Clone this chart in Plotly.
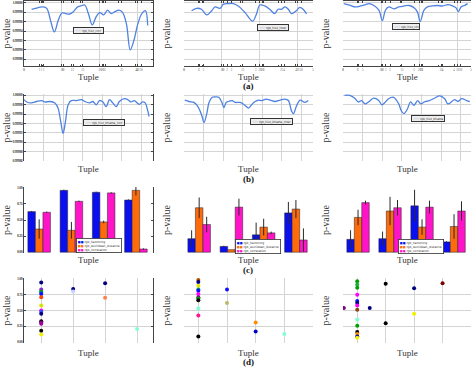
import plotly.graph_objects as go
from plotly.subplots import make_subplots

W, H = 474, 369
SERIF = "Liberation Serif, Times New Roman, serif"
LINE_BLUE = "#4f82e3"
C_BLUE, C_ORANGE, C_MAG = "#0a0ff0", "#ff6a0a", "#ff14c8"

# ---------------- Row (a): line plots ----------------
a1_x = [2, 3, 4, 5, 6, 7, 8, 9, 10, 11, 12, 13, 14, 15, 16, 17, 18, 19, 20, 21, 22, 23, 24, 25, 26, 27, 28, 29, 30, 31, 32, 32.6]
a1_y = [0.999986, 0.999988, 0.999990, 0.999991, 0.999988, 0.999962, 0.999938, 0.999962, 0.999978, 0.999977,
        0.999976, 0.999981, 0.999990, 0.999993, 0.999995, 0.999976, 0.999953, 0.999970, 0.999979, 0.999974,
        0.999984, 0.999977, 0.999981, 0.999984, 0.999979, 0.999955, 0.999900, 0.999921, 0.999955, 0.999976,
        0.999983, 0.999952]
a2_x = [2.0, 3.3, 4.6, 6.0, 7.3, 8.2, 9.5, 10.4, 11.7, 13.0, 14.3, 16.1, 18.1, 19.1, 20.0, 21.3, 22.6, 23.9,
        24.8, 25.7, 26.6, 27.5, 28.3, 29.6, 30.5, 31.4, 32.3]
a2_y = [0.999983, 0.999988, 0.999986, 0.999974, 0.999983, 0.999991, 0.999988, 0.999997, 0.999998, 0.999998,
        0.999993, 0.999979, 0.999961, 0.999976, 0.999995, 0.999993, 0.999986, 0.999977, 0.999986, 0.999986,
        0.999991, 0.999986, 0.999977, 0.999983, 0.999990, 0.999986, 0.999976]
a3_x = [0.2, 1.9, 3.2, 4.6, 5.9, 6.8, 8.1, 9.4, 10.3, 11.1, 12.0, 13.3, 14.6, 16.0, 17.3, 18.6, 19.5, 20.2,
        21.2, 22.1, 23.4, 24.7, 26.1, 27.4, 28.7, 29.6, 30.2, 30.9, 31.8, 32.6]
a3_y = [0.999998, 0.999994, 0.999991, 0.999993, 0.999996, 0.999998, 0.999994, 0.999984, 0.999962, 0.999984,
        0.999991, 0.999987, 0.999991, 0.999993, 0.999994, 0.999989, 0.999980, 0.999960, 0.999984, 0.999991,
        0.999993, 0.999994, 0.999993, 0.999996, 0.999993, 0.999989, 0.999981, 0.999991, 0.999994, 0.999998]

# ---------------- Row (b): line plots ----------------
b1_x = [0, 0.7, 1.9, 3.2, 4.5, 5.3, 6.6, 7.9, 8.7, 9.4, 10.0, 10.6, 11.3, 12.1, 13.4, 14.7, 15.5, 16.8,
        17.6, 18.5, 19.3, 20.2, 21.0, 21.9, 22.7, 23.6, 24.4, 25.7, 26.5, 27.4, 28.2, 29.5, 30.3, 31.0, 31.6, 32.0]
b1_y = [0.999991, 0.999986, 0.999984, 0.999987, 0.999989, 0.999986, 0.999987, 0.999984, 0.999973, 0.999944,
        0.999919, 0.999944, 0.999980, 0.999989, 0.999989, 0.999991, 0.999987, 0.999984, 0.999987, 0.999980,
        0.999989, 0.999986, 0.999976, 0.999991, 0.999984, 0.999976, 0.999987, 0.999993, 0.999991, 0.999986,
        0.999989, 0.999981, 0.999986, 0.999984, 0.999969, 0.999955]
b2_x = [0.2, 1.3, 2.5, 3.4, 4.1, 4.7, 5.1, 5.8, 6.4, 7.2, 8.1, 8.9, 9.7, 10.2, 10.8, 11.4, 12.3, 13.1, 14.4,
        15.7, 16.5, 17.4, 18.2, 19.1, 19.9, 21.0, 22.0, 23.3, 24.6, 25.8, 26.7, 27.5, 28.0, 28.8, 29.7, 30.9, 31.8]
b2_y = [0.999990, 0.999987, 0.999985, 0.999978, 0.999967, 0.999953, 0.999942, 0.999960, 0.999985, 0.999996,
        0.999997, 0.999996, 0.999985, 0.999974, 0.999985, 0.999987, 0.999989, 0.999985, 0.999985, 0.999978,
        0.999973, 0.999981, 0.999987, 0.999990, 0.999989, 0.999992, 0.999990, 0.999987, 0.999990, 0.999992,
        0.999989, 0.999967, 0.999961, 0.999978, 0.999990, 0.999985, 0.999989]
b3_x = [0.4, 1.7, 3.0, 3.9, 4.7, 5.6, 6.5, 7.8, 9.1, 9.9, 10.8, 11.6, 12.9, 14.2, 14.8, 15.5, 16.4, 17.2,
        18.1, 19.0, 19.8, 20.7, 22.0, 23.3, 24.6, 25.9, 26.7, 27.6, 28.4, 29.3, 30.2, 31.5, 32.3]
b3_y = [1.000000, 1.000000, 0.999994, 0.999986, 0.999989, 0.999982, 0.999986, 0.999994, 0.999989, 0.999980,
        0.999986, 0.999993, 0.999996, 0.999982, 0.999968, 0.999961, 0.999971, 0.999986, 0.999979, 0.999989,
        0.999982, 0.999986, 0.999989, 0.999994, 0.999999, 0.999993, 0.999982, 0.999986, 0.999991, 0.999987,
        0.999993, 0.999989, 0.999987]

line_names = ["rgb_hist_corr", "rgb_hist_inter", "rgb_hist_chi", "rgb_hist_bhatta_corr",
              "rgb_hist_bhatta_inter", "rgb_hist_bhatta"]

# ---------------- Row (c): grouped bars ----------------
groups = ["1", "2", "3", "4"]
bar_names = ["rgb_hamming", "rgb_euclidean_distance", "rgb_correlation"]
c1_blue = [0.63, 0.96, 0.93, 0.81]
c1_blue_err = [0.01, 0.01, 0.01, 0.01]
c1_orange = [0.36, 0.34, 0.47, 0.96]
c1_orange_err = [0.15, 0.13, 0.02, 0.08]
c1_mag = [0.62, 0.79, 0.92, 0.05]
c1_mag_err = [0.01, 0.01, 0.01, 0.01]

c2_blue = [0.21, 0.09, 0.27, 0.61]
c2_blue_err = [0.13, 0.01, 0.19, 0.17]
c2_orange = [0.69, 0.04, 0.39, 0.67]
c2_orange_err = [0.16, 0.0, 0.13, 0.14]
c2_mag = [0.43, 0.70, 0.30, 0.19]
c2_mag_err = [0.12, 0.13, 0.02, 0.18]

c3_blue = [0.20, 0.21, 0.72, 0.16]
c3_blue_err = [0.14, 0.11, 0.25, 0.01]
c3_orange = [0.54, 0.64, 0.39, 0.40]
c3_orange_err = [0.12, 0.22, 0.12, 0.19]
c3_mag = [0.77, 0.69, 0.70, 0.64]
c3_mag_err = [0.03, 0.12, 0.10, 0.15]

# ---------------- Row (d): scatter ----------------
d1_x = [1, 1, 1, 1, 1, 1, 1, 1, 1, 1, 1, 1, 1, 1, 1, 2, 2, 3, 3, 4]
d1_y = [0.94, 0.83, 0.80, 0.78, 0.76, 0.71, 0.58, 0.50, 0.48, 0.45, 0.33, 0.31, 0.29, 0.18, 0.12, 0.84, 0.80, 0.93, 0.70, 0.21]
d1_c = ["#000080", "#9020e0", "#00a000", "#008080", "#1010ff", "#ff4500", "#e0e000", "#ff00ff", "#3050ff", "#000080",
        "#000000", "#800080", "#a000a0", "#000000", "#f0f000", "#000080", "#c8d4ff", "#000080", "#ff7f50", "#7fffd4"]

d2_x = [1, 1, 1, 1, 1, 1, 1, 1, 1, 1, 1, 1, 2, 2, 3, 3, 4]
d2_y = [0.98, 0.95, 0.89, 0.83, 0.81, 0.76, 0.71, 0.69, 0.66, 0.53, 0.42, 0.09, 0.83, 0.62, 0.31, 0.17, 0.13]
d2_c = ["#b05000", "#000080", "#e6e600", "#008b8b", "#1010ff", "#ff00ff", "#800080", "#00a000", "#000000",
        "#7fffd4", "#ff1493", "#000000", "#1010ff", "#bdb76b", "#ff8c00", "#0000cd", "#7fffd4"]

d3_x = [1, 1, 1, 1, 1, 1, 1, 1, 1, 1, 1, 1, 1, 1, 2, 2, 3, 3, 4, 1.44, 0.53]
d3_y = [0.96, 0.91, 0.86, 0.75, 0.65, 0.62, 0.58, 0.51, 0.36, 0.26, 0.16, 0.13, 0.09, 0.07, 0.92, 0.30, 0.85, 0.45, 0.93, 0.54, 0.54]
d3_c = ["#00a000", "#20b040", "#00a000", "#ff00ff", "#1010ff", "#000080", "#ff00ff", "#8b4513", "#7fffd4",
        "#00a000", "#000000", "#ff8c00", "#000080", "#f0f000", "#000000", "#000000", "#000080", "#f0f000",
        "#800000", "#000080", "#800080"]

# ---------------- Layout geometry (pixels) ----------------
cols_px = [(24, 153), (184, 313), (343, 471)]
rows_px = [(1, 66), (94, 161), (187, 253), (278, 343)]


def xp(v):
    return v / W


def yp(v):
    return 1 - v / H


fig = make_subplots(rows=4, cols=3)

# Row a
for c, (xs, ys) in enumerate([(a1_x, a1_y), (a2_x, a2_y), (a3_x, a3_y)], start=1):
    fig.add_trace(go.Scatter(x=xs, y=ys, mode="lines", line=dict(color=LINE_BLUE, width=1.3, shape="spline"),
                             showlegend=False), row=1, col=c)
# Row b
for c, (xs, ys) in enumerate([(b1_x, b1_y), (b2_x, b2_y), (b3_x, b3_y)], start=1):
    fig.add_trace(go.Scatter(x=xs, y=ys, mode="lines", line=dict(color=LINE_BLUE, width=1.3, shape="spline"),
                             showlegend=False), row=2, col=c)

# Row c
bar_sets = [
    (c1_blue, c1_blue_err, c1_orange, c1_orange_err, c1_mag, c1_mag_err),
    (c2_blue, c2_blue_err, c2_orange, c2_orange_err, c2_mag, c2_mag_err),
    (c3_blue, c3_blue_err, c3_orange, c3_orange_err, c3_mag, c3_mag_err),
]
for c, (bv, be, ov, oe, mv, me) in enumerate(bar_sets, start=1):
    for vals, errs, col, nm in [(bv, be, C_BLUE, bar_names[0]), (ov, oe, C_ORANGE, bar_names[1]),
                                (mv, me, C_MAG, bar_names[2])]:
        fig.add_trace(go.Bar(x=groups, y=vals, name=nm, marker=dict(color=col, line=dict(color="#222", width=0.5)),
                             error_y=dict(type="data", array=errs, color="#2a2a2a", thickness=1, width=0),
                             showlegend=False), row=3, col=c)

# Row d
for c, (xs, ys, cs) in enumerate([(d1_x, d1_y, d1_c), (d2_x, d2_y, d2_c), (d3_x, d3_y, d3_c)], start=1):
    fig.add_trace(go.Scatter(x=xs, y=ys, mode="markers", marker=dict(color=cs, size=4),
                             showlegend=False), row=4, col=c)

fig.update_layout(barmode="group", bargap=0.3, bargroupgap=0.0,
                  width=W, height=H, margin=dict(l=0, r=0, t=0, b=0, autoexpand=False),
                  paper_bgcolor="white", plot_bgcolor="white",
                  font=dict(family=SERIF, size=4, color="#333"))

GRID = "#d4d4d4"
AX = dict(showline=True, linecolor="#444", linewidth=1, mirror="ticks", ticks="inside", ticklen=2,
          tickcolor="#444", tickfont=dict(size=3, color="#666"), zeroline=False, gridcolor=GRID, gridwidth=0.8,
          automargin=False)

for r in range(1, 5):
    for c in range(1, 4):
        idx = (r - 1) * 3 + c
        xn = "xaxis" if idx == 1 else f"xaxis{idx}"
        yn = "yaxis" if idx == 1 else f"yaxis{idx}"
        x0, x1 = cols_px[c - 1]
        y0, y1 = rows_px[r - 1]
        xa = dict(AX, domain=[xp(x0), xp(x1)])
        ya = dict(AX, domain=[yp(y1), yp(y0)])
        if r == 1:
            xa.update(range=[0, 34], dtick=10, tick0=0, showgrid=True,
                      minor=dict(dtick=5, ticks="inside", ticklen=1.5, tickcolor="#444", showgrid=False))
            ya.update(range=[0.999866, 1.0000035], dtick=0.00002, tick0=1.0, showgrid=True, tickformat=".5f")
            if c == 3:
                xa.update(range=[0, 33.5])
        elif r == 2:
            xa.update(range=[0, 33], dtick=5, tick0=0, showgrid=True)
            ya.update(range=[0.99986, 1.000003], dtick=0.00002, tick0=1.0, showgrid=True, tickformat=".5f")
            if c == 3:
                xa.update(range=[0, 32.6])
        elif r == 3:
            xa.update(range=[-0.47, 3.53], showgrid=False, type="category")
            ya.update(range=[-0.012, 1.012], dtick=0.25, tickformat=".2f", showgrid=False)
        else:
            if c == 1:
                xa.update(range=[0.46, 4.5])
            else:
                xa.update(range=[0.5, 5.0])
            xa.update(dtick=1, tick0=1, showgrid=True)
            ya.update(range=[-0.012, 1.012], dtick=0.25, tickformat=".2f", showgrid=True)
        fig.layout[xn] = xa
        fig.layout[yn] = ya

anns = []
# axis titles
for r in range(4):
    y0, y1 = rows_px[r]
    for c in range(3):
        x0, x1 = cols_px[c]
        anns.append(dict(text="p-value", x=xp(x0 - 18), y=yp((y0 + y1) / 2), textangle=-90,
                         font=dict(family=SERIF, size=10, color="#333")))
        ty = [77, 169, 260, 353][r]
        anns.append(dict(text="Tuple", x=xp((x0 + x1) / 2), y=yp(ty),
                         font=dict(family=SERIF, size=9, color="#333")))
for lab, ly in [("(a)", 86), ("(b)", 178.5), ("(c)", 269.5), ("(d)", 362)]:
    anns.append(dict(text=f"<b>{lab}</b>", x=xp(248), y=yp(ly), font=dict(family=SERIF, size=9, color="#111")))

# line legends
line_leg_pos = [(88, 30), (273, 27.5), (406, 27), (104, 122), (271, 121.5), (428, 119)]
for (lx, ly), nm in zip(line_leg_pos, line_names):
    anns.append(dict(text=f"<span style='color:{LINE_BLUE}'>───</span> {nm}", x=xp(lx), y=yp(ly),
                     font=dict(family="DejaVu Sans", size=3, color="#333"), bgcolor="#eeeeee",
                     bordercolor="#333", borderwidth=1, borderpad=0.5))

# bar legends
bar_leg_pos = [(98.5, 245.5), (258, 246.5), (420.5, 246)]
for lx, ly in bar_leg_pos:
    txt = "<br>".join(f"<span style='color:{col}'>■■</span> {nm}"
                      for col, nm in zip([C_BLUE, C_ORANGE, C_MAG], bar_names))
    anns.append(dict(text=txt, x=xp(lx), y=yp(ly), align="left",
                     font=dict(family="DejaVu Sans", size=3, color="#333"), bgcolor="white",
                     bordercolor="#333", borderwidth=0.8, borderpad=1))

for a in anns:
    a.update(xref="paper", yref="paper", showarrow=False, xanchor="center", yanchor="middle")
fig.update_layout(annotations=anns)

fig.write_html("out.html", config={"displayModeBar": False},
               post_script="document.body.style.margin='0';document.body.style.overflow='hidden';")
